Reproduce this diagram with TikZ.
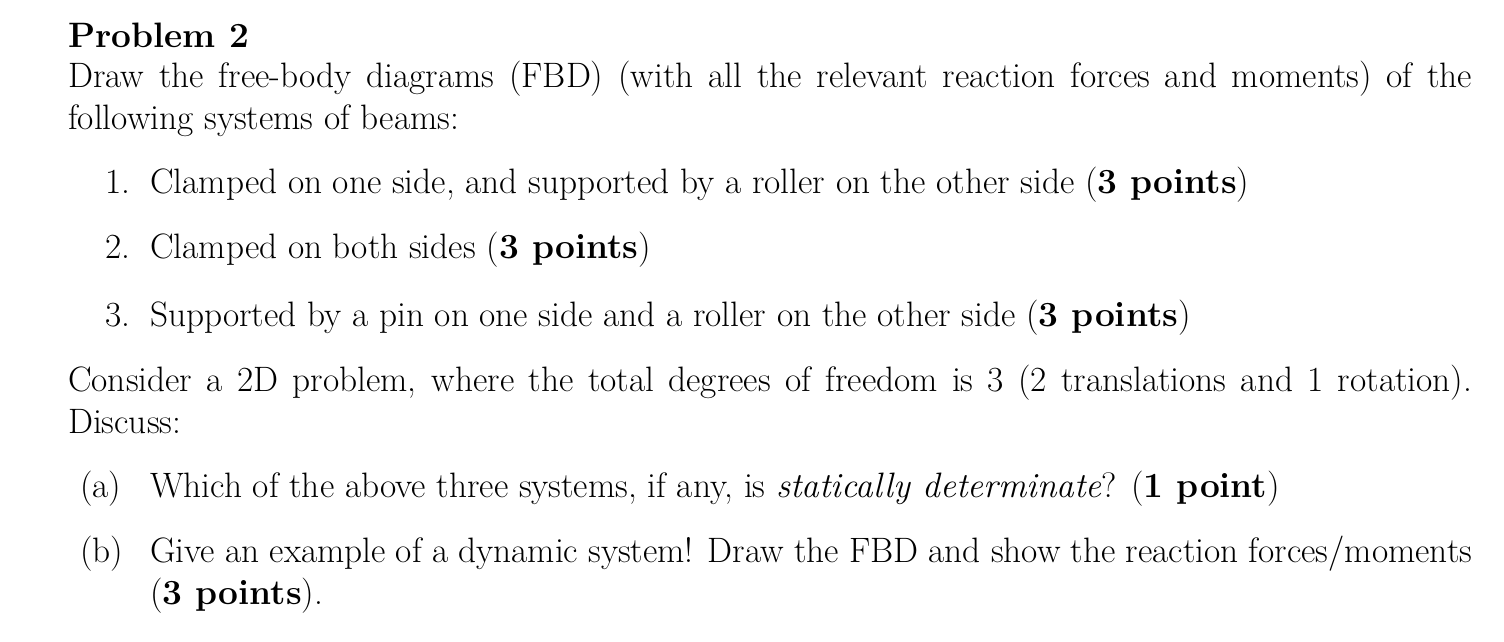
\documentclass[tikz,border=0pt]{standalone}
\begin{document}
\begin{tikzpicture}[x=1pt,y=-1pt,txt/.style={anchor=base west,inner sep=0pt,font=\fontsize{35.3}{42}\selectfont}]
\useasboundingbox (0,0) rectangle (1504,641);
\node[txt] (t0) at (68,47) {\textbf{Problem 2}};
\node[txt,text width=1404pt,align=justify] (t1) at (68,87) {Draw the free-body diagrams (FBD) (with all the relevant reaction forces and moments) of the \linebreak following systems of beams:};
\node[txt] (n1) at (105,193) {1.};
\node[txt] (i1) at (150,193) {Clamped on one side, and supported by a roller on the other side (\textbf{3 points})};
\node[txt] (n2) at (105,258) {2.};
\node[txt] (i2) at (150,258) {Clamped on both sides (\textbf{3 points})};
\node[txt] (n3) at (105,326) {3.};
\node[txt] (i3) at (150,326) {Supported by a pin on one side and a roller on the other side (\textbf{3 points})};
\node[txt,text width=1404pt,align=justify] (c1) at (68,391) {Consider a 2D problem, where the total degrees of freedom is 3 (2 translations and 1 rotation). \linebreak Discuss:};
\node[txt] (na) at (80,497) {(a)};
\node[txt] (ia) at (150,497) {Which of the above three systems, if any, is \textit{statically determinate}? (\textbf{1 point})};
\node[txt] (nb) at (80,562) {(b)};
\node[txt,text width=1322pt,align=justify] (ib) at (150,562) {Give an example of a dynamic system! Draw the FBD and show the reaction forces/moments \linebreak (\textbf{3 points}).};
\end{tikzpicture}
\end{document}
